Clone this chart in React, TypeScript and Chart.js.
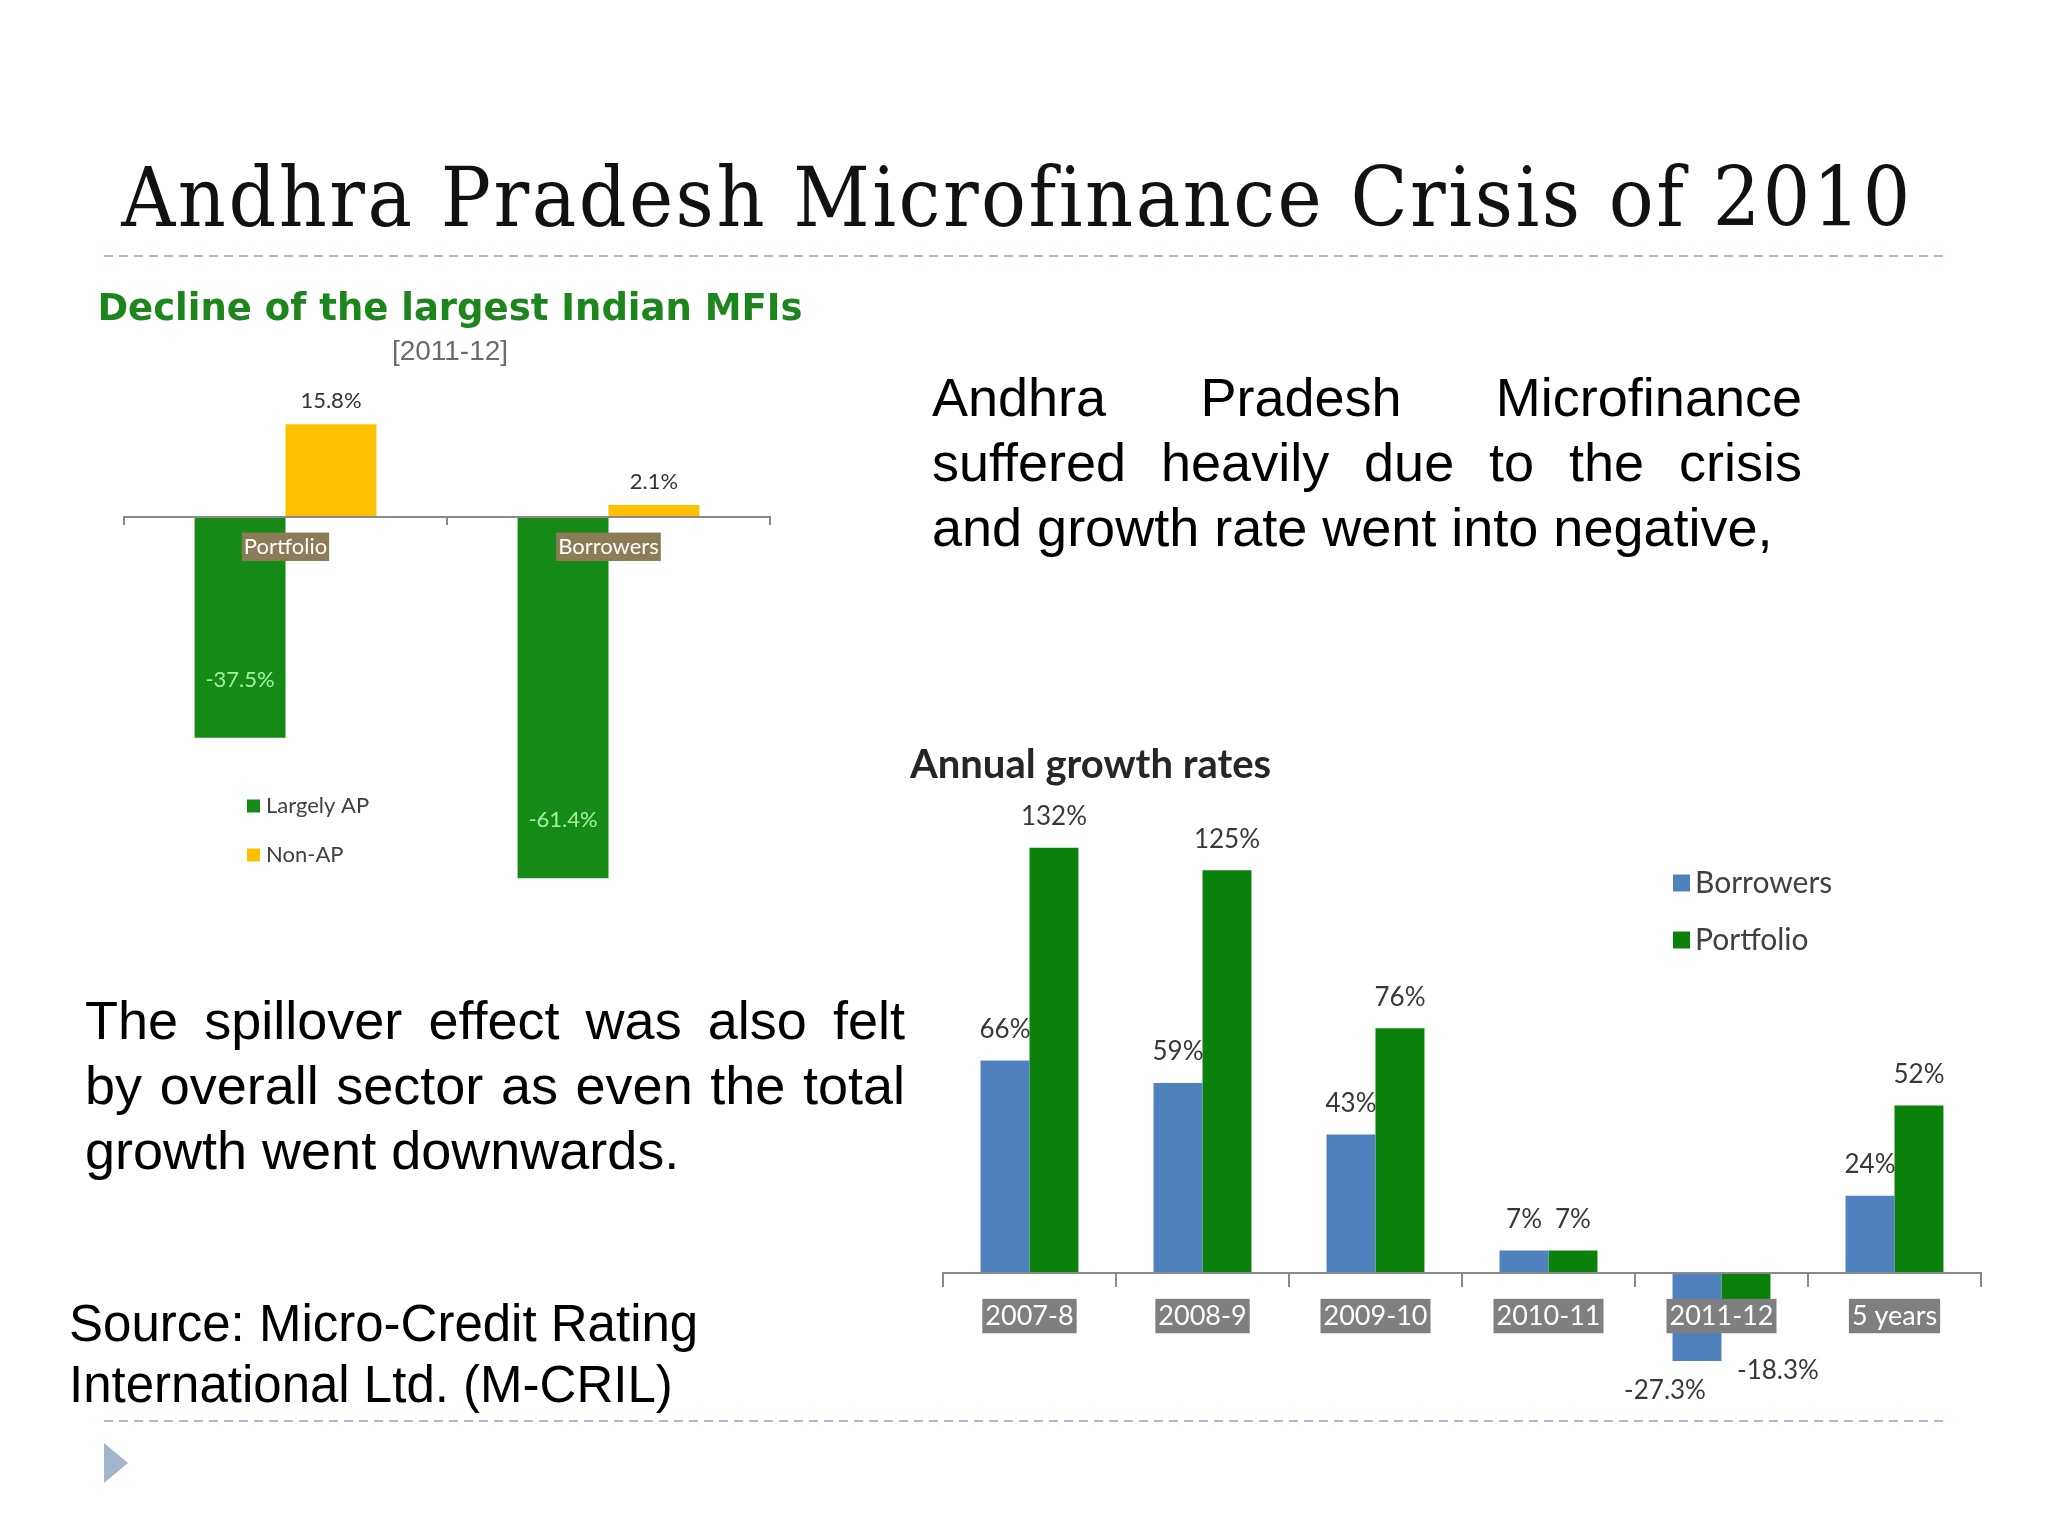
import React, { useEffect, useRef } from "react";
import { Chart, registerables } from "chart.js";

Chart.register(...registerables);

// Decline of the largest Indian MFIs, 2011-12
const mfiCategories = ["Portfolio", "Borrowers"];
const mfiSeriesNames = ["Largely AP", "Non-AP"];
const largelyAP = [-37.5, -61.4];
const nonAP = [15.8, 2.1];

// Annual growth rates
const growthYears = ["2007-8", "2008-9", "2009-10", "2010-11", "2011-12", "5 years"];
const growthSeriesNames = ["Borrowers", "Portfolio"];
const borrowersGrowth = [66, 59, 43, 7, -27.3, 24];
const portfolioGrowth = [132, 125, 76, 7, -18.3, 52];

const pct = (v: number) => (Number.isInteger(v) ? String(v) : v.toFixed(1)) + "%";

// Invisible axis used only to reserve a fixed gutter beside the plot.
const gutterAxis = (position: "left" | "right", width: number) => ({
  display: true,
  position,
  ticks: { display: false },
  grid: { display: false },
  border: { display: false },
  afterFit: (scale: any) => {
    scale.width = width;
  },
});

// Draws each bar's value next to it.
const barValueLabels = {
  id: "barValueLabels",
  afterDatasetsDraw(chart: any, _args: any, opts: any) {
    const { ctx } = chart;
    ctx.save();
    ctx.font = opts.font;
    ctx.textAlign = "center";
    ctx.textBaseline = "middle";
    chart.data.datasets.forEach((ds: any, di: number) => {
      const meta = chart.getDatasetMeta(di);
      meta.data.forEach((bar: any, i: number) => {
        const v = ds.data[i] as number;
        const { x, y } = bar.getProps(["x", "y"], true);
        let lx = x;
        let ly: number;
        if (v >= 0) {
          ly = y - opts.above;
          ctx.fillStyle = opts.color;
        } else if (opts.negInside) {
          ly = y - opts.negInset;
          ctx.fillStyle = opts.negColor;
        } else {
          ly = y + opts.below[di];
          lx = x + (di === 0 ? -1 : 1) * opts.negSpread;
          ctx.fillStyle = opts.color;
        }
        ctx.fillText(pct(v), lx, ly);
      });
    });
    ctx.restore();
  },
};

// Stacked legend placed inside the plot.
const stackedLegend = {
  id: "stackedLegend",
  afterDraw(chart: any, _args: any, opts: any) {
    const { ctx } = chart;
    ctx.save();
    ctx.font = opts.font;
    ctx.textAlign = "left";
    ctx.textBaseline = "middle";
    chart.data.datasets.forEach((ds: any, i: number) => {
      const cy = opts.y + i * opts.gap;
      ctx.fillStyle = ds.backgroundColor;
      ctx.fillRect(opts.x, cy - opts.box / 2, opts.box, opts.box);
      ctx.fillStyle = opts.color;
      ctx.fillText(ds.label, opts.x + opts.box + opts.textGap, cy);
    });
    ctx.restore();
  },
};

function MfiDeclineChart() {
  const ref = useRef<HTMLCanvasElement>(null);
  useEffect(() => {
    if (!ref.current) return;
    const chart = new Chart(ref.current, {
      type: "bar",
      data: {
        labels: mfiCategories,
        datasets: [
          { label: mfiSeriesNames[0], data: largelyAP, backgroundColor: "#168a16" },
          { label: mfiSeriesNames[1], data: nonAP, backgroundColor: "#ffc000" },
        ],
      },
      plugins: [barValueLabels, stackedLegend],
      options: {
        animation: false,
        responsive: false,
        maintainAspectRatio: false,
        layout: { padding: { left: 0, right: 0, top: 0, bottom: 14.6 } },
        datasets: { bar: { categoryPercentage: 0.563, barPercentage: 1 } },
        scales: {
          x: {
            position: { y: 0 },
            offset: true,
            grid: {
              display: true,
              offset: true,
              drawOnChartArea: false,
              drawTicks: true,
              tickLength: 7,
              color: "#8a8a8a",
              lineWidth: 2,
            },
            border: { display: true, color: "#8a8a8a", width: 2, z: 1 },
            ticks: {
              z: 1,
              color: "#ffffff",
              font: { family: "Lato", size: 22 },
              padding: 9.3,
              showLabelBackdrop: true,
              backdropColor: "#8b7b57",
              backdropPadding: { top: 1, bottom: 1, left: 2, right: 2 },
              maxRotation: 0,
              autoSkip: false,
            },
          },
          y: { ...gutterAxis("left", 64), min: -66, max: 18 },
          gutterRight: gutterAxis("right", 70),
        } as any,
        plugins: {
          legend: { display: false },
          tooltip: { enabled: false },
          title: {
            display: true,
            text: "Decline of the largest Indian MFIs",
            color: "#1c861c",
            font: { family: "DejaVu Sans", size: 37, weight: "bold" },
            padding: { top: 7.8, bottom: 0 },
          },
          subtitle: {
            display: true,
            text: "[2011-12]",
            color: "#6b6b6b",
            font: { family: "Liberation Sans", size: 28 },
            padding: { top: 3.4, bottom: 42.2 },
          },
          barValueLabels: {
            font: "22px Lato",
            color: "#333333",
            negColor: "#a2f2a2",
            above: 23,
            negInside: true,
            negInset: 58,
          },
          stackedLegend: {
            x: 187,
            y: 526,
            gap: 49,
            box: 13,
            textGap: 6,
            font: "22px Lato",
            color: "#404040",
          },
        } as any,
      },
    });
    return () => chart.destroy();
  }, []);
  return (
    <canvas
      ref={ref}
      width={780}
      height={640}
      style={{ position: "absolute", left: 60, top: 280, width: 780, height: 640 }}
    />
  );
}

function GrowthRatesChart() {
  const ref = useRef<HTMLCanvasElement>(null);
  useEffect(() => {
    if (!ref.current) return;
    const chart = new Chart(ref.current, {
      type: "bar",
      data: {
        labels: growthYears,
        datasets: [
          { label: growthSeriesNames[0], data: borrowersGrowth, backgroundColor: "#4f81bd" },
          { label: growthSeriesNames[1], data: portfolioGrowth, backgroundColor: "#0b800b" },
        ],
      },
      plugins: [barValueLabels, stackedLegend],
      options: {
        animation: false,
        responsive: false,
        maintainAspectRatio: false,
        layout: { padding: { left: 0, right: 19, top: 0, bottom: 24.2 } },
        datasets: { bar: { categoryPercentage: 0.566, barPercentage: 1 } },
        scales: {
          x: {
            position: { y: 0 },
            offset: true,
            grid: {
              display: true,
              offset: true,
              drawOnChartArea: false,
              drawTicks: true,
              tickLength: 13,
              color: "#8a8a8a",
              lineWidth: 2,
            },
            border: { display: true, color: "#8a8a8a", width: 2, z: 1 },
            ticks: {
              z: 1,
              color: "#ffffff",
              font: { family: "Lato", size: 27 },
              padding: 13.8,
              showLabelBackdrop: true,
              backdropColor: "#7f7f7f",
              backdropPadding: { top: 1, bottom: 1, left: 3, right: 3 },
              maxRotation: 0,
              autoSkip: false,
            },
          },
          y: { ...gutterAxis("left", 33), min: -35, max: 140 },
        } as any,
        plugins: {
          legend: { display: false },
          tooltip: { enabled: false },
          title: {
            display: true,
            text: "Annual growth rates",
            align: "start",
            color: "#262626",
            font: { family: "Lato", size: 40, weight: "bold" },
            padding: { top: 1, bottom: 33 },
          },
          barValueLabels: {
            font: "26px Lato",
            color: "#383838",
            above: 31,
            negInside: false,
            below: [30, 39],
            negSpread: 32,
          },
          stackedLegend: {
            x: 763,
            y: 143,
            gap: 57,
            box: 17,
            textGap: 5,
            font: "30px Lato",
            color: "#404040",
          },
        } as any,
      },
    });
    return () => chart.destroy();
  }, []);
  return (
    <canvas
      ref={ref}
      width={1090}
      height={670}
      style={{ position: "absolute", left: 910, top: 740, width: 1090, height: 670 }}
    />
  );
}

const bodyFont = "'Liberation Sans', Arial, sans-serif";

const justifiedLine: React.CSSProperties = {
  textAlign: "justify",
  textAlignLast: "justify",
  whiteSpace: "nowrap",
};

function DashedRule({ top }: { top: number }) {
  return (
    <div
      style={{
        position: "absolute",
        left: 104,
        top,
        width: 1842,
        height: 2,
        background: "repeating-linear-gradient(90deg, #a9bccf 0px, #a9bccf 9px, transparent 9px, transparent 15px)",
      }}
    />
  );
}

export default function App() {
  return (
    <div
      style={{
        position: "absolute",
        left: 0,
        top: 0,
        width: 2048,
        height: 1536,
        background: "#ffffff",
        overflow: "hidden",
        color: "#000000",
      }}
    >
      <div
        style={{
          position: "absolute",
          left: 0,
          top: 148,
          width: 2034,
          textAlign: "center",
          fontFamily: "'DejaVu Serif Condensed', 'DejaVu Serif', serif",
          fontStretch: "condensed",
          fontSize: 83,
          letterSpacing: 2.5,
          lineHeight: "100px",
          color: "#111111",
          whiteSpace: "nowrap",
        }}
      >
        Andhra Pradesh Microfinance Crisis of 2010
      </div>
      <DashedRule top={255} />

      <MfiDeclineChart />

      <div
        style={{
          position: "absolute",
          left: 932,
          top: 365,
          width: 870,
          fontFamily: bodyFont,
          fontSize: 54,
          lineHeight: "65px",
        }}
      >
        <div style={justifiedLine}>Andhra Pradesh Microfinance</div>
        <div style={justifiedLine}>suffered heavily due to the crisis</div>
        <div style={{ whiteSpace: "nowrap" }}>and growth rate went into negative,</div>
      </div>

      <GrowthRatesChart />

      <div
        style={{
          position: "absolute",
          left: 85,
          top: 988,
          width: 820,
          fontFamily: bodyFont,
          fontSize: 54,
          lineHeight: "65px",
        }}
      >
        <div style={justifiedLine}>The spillover effect was also felt</div>
        <div style={justifiedLine}>by overall sector as even the total</div>
        <div style={{ whiteSpace: "nowrap" }}>growth went downwards.</div>
      </div>

      <div
        style={{
          position: "absolute",
          left: 69,
          top: 1293,
          fontFamily: bodyFont,
          fontSize: 51,
          lineHeight: "61px",
          whiteSpace: "nowrap",
        }}
      >
        <div>Source: Micro-Credit Rating</div>
        <div>International Ltd. (M-CRIL)</div>
      </div>

      <DashedRule top={1420} />
      <div
        style={{
          position: "absolute",
          left: 104,
          top: 1443,
          width: 0,
          height: 0,
          borderTop: "20px solid transparent",
          borderBottom: "20px solid transparent",
          borderLeft: "24px solid #a3b6cb",
        }}
      />
    </div>
  );
}
